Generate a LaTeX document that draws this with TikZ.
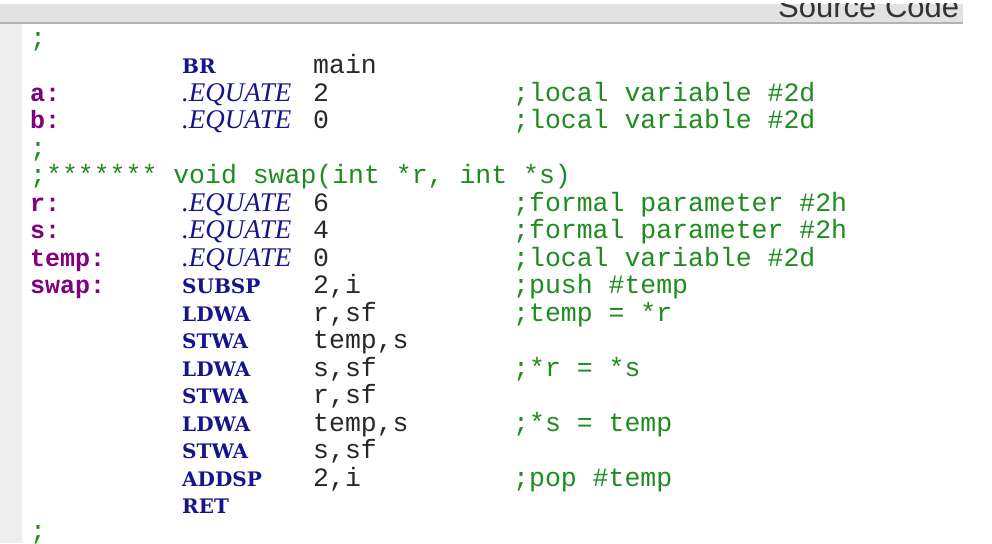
\documentclass[tikz,border=0pt]{standalone}
\usepackage{fontspec}
\setmainfont{Liberation Serif}
\setmonofont{Liberation Mono}
\newfontfamily\uisans{Liberation Sans}
\newfontfamily\opfont{DejaVu Serif}
\definecolor{opc}{RGB}{20,20,140}
\definecolor{lab}{RGB}{128,0,128}
\definecolor{cmt}{RGB}{30,140,30}
\definecolor{opd}{RGB}{40,40,40}
\definecolor{gutter}{RGB}{238,238,238}
\definecolor{bar}{RGB}{226,226,226}
\begin{document}
\begin{tikzpicture}[x=1pt,y=-1pt,
  every node/.style={inner sep=0pt,anchor=base west},
  labt/.style={font=\ttfamily\bfseries\fontsize{25}{25}\selectfont,text=lab},
  opt/.style={font=\opfont\bfseries\fontsize{20}{20}\selectfont,text=opc},
  eqt/.style={font=\itshape\fontsize{27}{27}\selectfont,text=opc},
  odt/.style={font=\ttfamily\fontsize{26.5}{26.5}\selectfont,text=opd},
  cmtt/.style={font=\ttfamily\fontsize{26.5}{26.5}\selectfont,text=cmt}]
\useasboundingbox (0,0) rectangle (992,543);
\fill[white] (0,0) rectangle (992,543);
\fill[bar] (0,4) rectangle (963,22);
\draw[gray!60,line width=1.5] (0,23) -- (963,23);
\fill[gutter] (0,24) rectangle (22,543);
\begin{scope}
\clip (0,4) rectangle (963,22);
\node[font=\uisans\fontsize{31}{31}\selectfont,text=black!80] (title) at (778,18) {Source Code};
\end{scope}
\node[cmtt] (c0) at (30,47) {;};
\node[opt] (o1) at (182,74) {BR};
\node[odt] (d1) at (313,74) {main};
\node[labt] (l2) at (30,101) {a:};
\node[eqt] (o2) at (182,101) {.EQUATE};
\node[odt] (d2) at (313,101) {2};
\node[cmtt] (c2) at (513,101) {;local variable \#2d};
\node[labt] (l3) at (30,128) {b:};
\node[eqt] (o3) at (182,128) {.EQUATE};
\node[odt] (d3) at (313,128) {0};
\node[cmtt] (c3) at (513,128) {;local variable \#2d};
\node[cmtt] (c4) at (30,156) {;};
\node[cmtt] (c5) at (30,183) {;*******\ void swap(int *r, int *s)};
\node[labt] (l6) at (30,211) {r:};
\node[eqt] (o6) at (182,211) {.EQUATE};
\node[odt] (d6) at (313,211) {6};
\node[cmtt] (c6) at (513,211) {;formal parameter \#2h};
\node[labt] (l7) at (30,238) {s:};
\node[eqt] (o7) at (182,238) {.EQUATE};
\node[odt] (d7) at (313,238) {4};
\node[cmtt] (c7) at (513,238) {;formal parameter \#2h};
\node[labt] (l8) at (30,266) {temp:};
\node[eqt] (o8) at (182,266) {.EQUATE};
\node[odt] (d8) at (313,266) {0};
\node[cmtt] (c8) at (513,266) {;local variable \#2d};
\node[labt] (l9) at (30,293) {swap:};
\node[opt] (o9) at (182,293) {SUBSP};
\node[odt] (d9) at (313,293) {2,i};
\node[cmtt] (c9) at (513,293) {;push \#temp};
\node[opt] (o10) at (182,321) {LDWA};
\node[odt] (d10) at (313,321) {r,sf};
\node[cmtt] (c10) at (513,321) {;temp = *r};
\node[opt] (o11) at (182,348) {STWA};
\node[odt] (d11) at (313,348) {temp,s};
\node[opt] (o12) at (182,376) {LDWA};
\node[odt] (d12) at (313,376) {s,sf};
\node[cmtt] (c12) at (513,376) {;*r = *s};
\node[opt] (o13) at (182,403) {STWA};
\node[odt] (d13) at (313,403) {r,sf};
\node[opt] (o14) at (182,431) {LDWA};
\node[odt] (d14) at (313,431) {temp,s};
\node[cmtt] (c14) at (513,431) {;*s = temp};
\node[opt] (o15) at (182,458) {STWA};
\node[odt] (d15) at (313,458) {s,sf};
\node[opt] (o16) at (182,486) {ADDSP};
\node[odt] (d16) at (313,486) {2,i};
\node[cmtt] (c16) at (513,486) {;pop \#temp};
\node[opt] (o17) at (182,513) {RET};
\node[cmtt] (c18) at (30,539) {;};
\end{tikzpicture}
\end{document}
